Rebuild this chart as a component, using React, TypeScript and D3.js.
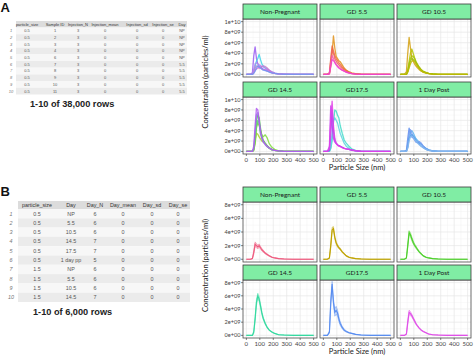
import React from "react";
import * as d3 from "d3";

// ---------- DATA ----------
const FACETS = ["Non-Pregnant", "GD 5.5", "GD 10.5", "GD 14.5", "GD17.5", "1 Day Post"];
const SIZES = [0, 30, 45, 55, 65, 75, 85, 95, 105, 115, 125, 140, 155, 170, 190, 210, 240, 280, 350, 500];

// Panel A: individual samples (concentration, x1e9 particles/ml)
const A_NON_PREGNANT = [
  [0, 0, 0.3, 3.5, 5.2, 3.0, 2.0, 1.6, 1.4, 1.2, 1.0, 0.8, 0.6, 0.5, 0.3, 0.2, 0.1, 0.05, 0, 0],
  [0, 0, 0, 0.5, 1.5, 2.5, 3.0, 3.8, 2.8, 2.0, 1.6, 1.2, 0.9, 0.6, 0.4, 0.2, 0.1, 0, 0, 0],
  [0, 0, 0.1, 1.0, 2.0, 2.2, 2.0, 1.8, 1.7, 1.5, 1.4, 1.2, 1.0, 0.8, 0.5, 0.3, 0.1, 0.05, 0, 0],
  [0, 0, 0, 0.4, 1.2, 1.6, 1.5, 1.2, 1.3, 1.5, 1.6, 1.5, 1.2, 0.8, 0.4, 0.2, 0.1, 0, 0, 0],
  [0, 0, 0, 0.3, 0.8, 1.0, 1.2, 1.3, 1.2, 1.0, 0.9, 0.9, 0.8, 0.6, 0.3, 0.2, 0.1, 0, 0, 0],
  [0, 0, 0, 0.2, 0.6, 1.2, 1.6, 1.4, 1.2, 1.0, 0.8, 0.7, 0.6, 0.4, 0.3, 0.2, 0.1, 0, 0, 0],
];
const A_GD5 = [
  [0, 0, 0.1, 1.5, 4.0, 7.3, 5.0, 3.4, 3.0, 2.6, 2.4, 1.8, 1.2, 0.8, 0.5, 0.3, 0.15, 0.05, 0, 0],
  [0, 0, 0.3, 3.0, 5.4, 4.5, 3.5, 3.0, 2.6, 2.2, 1.9, 1.4, 1.0, 0.7, 0.4, 0.2, 0.1, 0, 0, 0],
  [0, 0, 0.2, 2.5, 4.6, 4.0, 3.0, 2.5, 2.1, 1.8, 1.5, 1.1, 0.8, 0.5, 0.3, 0.2, 0.1, 0, 0, 0],
  [0, 0, 0.2, 2.0, 3.6, 3.0, 2.4, 1.9, 1.6, 1.3, 1.1, 0.8, 0.6, 0.4, 0.3, 0.15, 0.05, 0, 0, 0],
  [0, 0, 0.1, 1.5, 2.8, 2.6, 2.2, 1.8, 1.5, 1.2, 1.0, 0.8, 0.6, 0.4, 0.3, 0.15, 0.05, 0, 0, 0],
];
const A_GD10 = [
  [0, 0, 0.5, 4.0, 7.0, 5.0, 3.2, 2.5, 2.0, 1.6, 1.3, 0.9, 0.6, 0.4, 0.3, 0.15, 0.05, 0, 0, 0],
  [0, 0, 0, 0.8, 2.5, 4.0, 4.8, 4.0, 3.2, 2.5, 2.0, 1.4, 0.9, 0.6, 0.4, 0.2, 0.1, 0, 0, 0],
  [0, 0, 0, 0.6, 2.0, 3.0, 3.5, 3.4, 3.0, 2.4, 1.9, 1.3, 0.8, 0.5, 0.3, 0.2, 0.1, 0, 0, 0],
  [0, 0, 0, 0.5, 1.5, 2.5, 3.0, 2.8, 2.6, 2.3, 1.8, 1.2, 0.8, 0.5, 0.3, 0.2, 0.1, 0, 0, 0],
  [0, 0, 0, 0.4, 1.2, 2.0, 2.5, 2.6, 2.4, 2.0, 1.6, 1.1, 0.7, 0.4, 0.3, 0.15, 0.05, 0, 0, 0],
];
const A_GD14 = [
  [0, 0, 0, 0.5, 3.0, 6.0, 7.0, 6.5, 4.5, 3.0, 2.2, 1.6, 1.1, 0.7, 0.4, 0.2, 0.1, 0, 0, 0],
  [0, 0, 0, 0.3, 2.0, 4.5, 5.5, 5.0, 4.0, 3.2, 2.8, 3.2, 2.6, 1.5, 0.8, 0.4, 0.1, 0, 0, 0],
  [0, 0, 0, 0.2, 1.5, 3.5, 3.3, 2.8, 2.4, 2.0, 1.8, 1.5, 1.0, 0.6, 0.3, 0.2, 0.1, 0, 0, 0],
  [0, 0, 0, 0.3, 2.0, 5.0, 6.0, 5.5, 3.5, 2.6, 2.0, 1.5, 1.0, 0.6, 0.3, 0.2, 0.1, 0, 0, 0],
  [0, 0, 0, 0.5, 3.5, 7.0, 7.5, 5.5, 3.5, 2.5, 1.8, 1.3, 0.9, 0.6, 0.3, 0.2, 0.1, 0, 0, 0],
  [0, 0, 0, 1.0, 5.0, 8.3, 8.0, 6.0, 4.0, 2.8, 2.0, 1.4, 1.0, 0.7, 0.4, 0.2, 0.1, 0, 0, 0],
];
const A_GD17 = [
  [0, 0, 0, 0.5, 2.0, 5.5, 8.0, 7.8, 7.0, 6.5, 5.0, 3.5, 2.2, 1.6, 1.0, 0.5, 0.2, 0.05, 0, 0],
  [0, 0, 0, 0.8, 3.0, 6.0, 6.5, 6.0, 5.5, 4.5, 3.5, 2.5, 1.6, 1.0, 0.6, 0.3, 0.1, 0, 0, 0],
  [0, 0, 0.2, 3.0, 8.0, 4.0, 2.2, 1.6, 1.3, 1.1, 1.0, 0.8, 0.6, 0.5, 0.4, 0.2, 0.1, 0, 0, 0],
  [0, 0, 1.0, 8.8, 5.0, 2.5, 1.8, 1.5, 1.3, 1.1, 1.0, 0.8, 0.6, 0.5, 0.4, 0.3, 0.1, 0, 0, 0],
  [0, 0, 0.5, 6.0, 9.7, 5.0, 2.5, 1.6, 1.2, 1.0, 0.9, 0.7, 0.6, 0.5, 0.4, 0.3, 0.15, 0.05, 0, 0],
];
const A_DAY_POST = [
  [0, 0, 0.2, 2.5, 4.5, 3.5, 2.8, 2.6, 2.4, 2.0, 1.8, 1.6, 1.4, 1.0, 0.6, 0.3, 0.1, 0, 0, 0],
  [0, 0, 0, 1.0, 3.0, 3.8, 4.0, 3.6, 3.0, 2.5, 2.2, 1.8, 1.4, 1.0, 0.6, 0.3, 0.1, 0, 0, 0],
  [0, 0, 0.1, 1.5, 3.5, 4.2, 3.5, 2.8, 2.2, 1.8, 1.7, 1.9, 1.6, 1.0, 0.5, 0.2, 0.1, 0, 0, 0],
  [0, 0, 0, 0.8, 2.5, 3.0, 3.2, 3.0, 2.6, 2.2, 1.8, 1.4, 1.0, 0.7, 0.4, 0.2, 0.1, 0, 0, 0],
  [0, 0, 0, 0.6, 2.0, 2.8, 3.0, 2.7, 2.3, 2.0, 1.7, 1.3, 1.0, 0.7, 0.4, 0.2, 0.1, 0, 0, 0],
];
const A_SERIES = [A_NON_PREGNANT, A_GD5, A_GD10, A_GD14, A_GD17, A_DAY_POST];

// Panel B: mean and sd per day
const B_MEAN_NP = [0, 0, 0.1, 1.0, 2.2, 2.0, 1.8, 2.0, 1.7, 1.4, 1.2, 0.9, 0.7, 0.5, 0.3, 0.2, 0.1, 0.05, 0, 0];
const B_MEAN_GD5 = [0, 0, 0.2, 2.0, 4.3, 4.5, 3.2, 2.4, 2.0, 1.7, 1.5, 1.1, 0.8, 0.5, 0.3, 0.2, 0.1, 0.05, 0, 0];
const B_MEAN_GD10 = [0, 0, 0.2, 2.0, 3.9, 3.6, 3.0, 2.5, 2.1, 1.8, 1.5, 1.1, 0.8, 0.5, 0.3, 0.2, 0.1, 0.05, 0, 0];
const B_MEAN_GD14 = [0, 0, 0, 0.5, 2.5, 5.0, 6.0, 5.5, 4.5, 3.4, 2.6, 1.8, 1.2, 0.8, 0.5, 0.3, 0.1, 0.05, 0, 0];
const B_MEAN_GD17 = [0, 0, 0.5, 5.0, 7.8, 5.0, 3.5, 3.8, 3.4, 2.5, 1.8, 1.2, 0.8, 0.6, 0.4, 0.3, 0.15, 0.05, 0, 0];
const B_MEAN_DP = [0, 0, 0.2, 2.0, 3.5, 3.3, 3.0, 2.6, 2.2, 1.8, 1.5, 1.1, 0.8, 0.6, 0.4, 0.2, 0.1, 0.05, 0, 0];
const B_SD_NP = [0, 0, 0.05, 0.3, 0.35, 0.3, 0.3, 0.25, 0.2, 0.2, 0.15, 0.12, 0.1, 0.08, 0.05, 0.03, 0.02, 0, 0, 0];
const B_SD_GD5 = [0, 0, 0.1, 0.4, 0.4, 0.3, 0.25, 0.2, 0.2, 0.15, 0.15, 0.1, 0.1, 0.08, 0.05, 0.03, 0.02, 0, 0, 0];
const B_SD_GD10 = [0, 0, 0.1, 0.4, 0.3, 0.3, 0.3, 0.25, 0.2, 0.2, 0.15, 0.12, 0.1, 0.08, 0.05, 0.03, 0.02, 0, 0, 0];
const B_SD_GD14 = [0, 0, 0, 0.2, 0.4, 0.5, 0.4, 0.4, 0.3, 0.25, 0.2, 0.15, 0.1, 0.08, 0.05, 0.03, 0.02, 0, 0, 0];
const B_SD_GD17 = [0, 0, 0.2, 0.6, 0.4, 0.5, 0.6, 0.6, 0.5, 0.4, 0.3, 0.2, 0.15, 0.1, 0.06, 0.04, 0.02, 0, 0, 0];
const B_SD_DP = [0, 0, 0.1, 0.4, 0.35, 0.3, 0.25, 0.2, 0.2, 0.15, 0.12, 0.1, 0.08, 0.06, 0.04, 0.03, 0.02, 0, 0, 0];
const B_MEANS = [B_MEAN_NP, B_MEAN_GD5, B_MEAN_GD10, B_MEAN_GD14, B_MEAN_GD17, B_MEAN_DP];
const B_SDS = [B_SD_NP, B_SD_GD5, B_SD_GD10, B_SD_GD14, B_SD_GD17, B_SD_DP];

const X_TICKS = [0, 100, 200, 300, 400, 500];
const A_Y_TICKS = [0, 2, 4, 6, 8, 10];
const A_Y_LABELS = ["0e+00", "2e+09", "4e+09", "6e+09", "8e+09", "1e+10"];
const B_Y_TICKS = [0, 2, 4, 6, 8];
const B_Y_LABELS = ["0e+00", "2e+09", "4e+09", "6e+09", "8e+09"];

// Tables
const TA_HEAD = ["particle_size", "Sample ID", "Injection_N", "Injection_mean", "Injection_sd", "Injection_se", "Day"];
const TA_PARTICLE = ["0.5", "0.5", "0.5", "0.5", "0.5", "0.5", "0.5", "0.5", "0.5", "0.5"];
const TA_SAMPLE = ["1", "2", "3", "4", "6", "7", "8", "9", "10", "11"];
const TA_INJ_N = ["3", "3", "3", "3", "3", "3", "3", "3", "3", "3"];
const TA_INJ_MEAN = ["0", "0", "0", "0", "0", "0", "0", "0", "0", "0"];
const TA_INJ_SD = ["0", "0", "0", "0", "0", "0", "0", "0", "0", "0"];
const TA_INJ_SE = ["0", "0", "0", "0", "0", "0", "0", "0", "0", "0"];
const TA_DAY = ["NP", "NP", "NP", "NP", "NP", "5.5", "5.5", "5.5", "5.5", "5.5"];

const TB_HEAD = ["particle_size", "Day", "Day_N", "Day_mean", "Day_sd", "Day_se"];
const TB_PARTICLE = ["0.5", "0.5", "0.5", "0.5", "0.5", "0.5", "1.5", "1.5", "1.5", "1.5"];
const TB_DAY = ["NP", "5.5", "10.5", "14.5", "17.5", "1 day pp", "NP", "5.5", "10.5", "14.5"];
const TB_N = ["6", "6", "6", "7", "7", "5", "6", "6", "6", "7"];
const TB_MEAN = ["0", "0", "0", "0", "0", "0", "0", "0", "0", "0"];
const TB_SD = ["0", "0", "0", "0", "0", "0", "0", "0", "0", "0"];
const TB_SE = ["0", "0", "0", "0", "0", "0", "0", "0", "0", "0"];

// ---------- STYLE ----------
const A_COLORS = [
  ["#9A5CF2", "#3FD3E8", "#A98BF0", "#C77ACB", "#D96CE0", "#6F9AF0"],
  ["#E0901A", "#EE6A3C", "#F0605F", "#F25CB0", "#F040D0"],
  ["#D4A010", "#B5C200", "#A6C400", "#98BE10", "#C0B800"],
  ["#3ECF3E", "#7EDC3A", "#A8D420", "#52D860", "#9A7CE8", "#B05AF0"],
  ["#44DCC8", "#5AD4E0", "#A050F0", "#C838F0", "#E040E8"],
  ["#5A8CF0", "#5AB0F0", "#7A9CF0", "#4FA0E8", "#8AB8F0"],
];
const B_COLORS = ["#EE5A7E", "#BFA200", "#4CD02A", "#35D9A0", "#5A8EF0", "#E050E8"];

const FONT = "Lato, 'Open Sans', sans-serif";
const COLS: [number, number][] = [[243, 317], [320, 394], [397, 471]];

type Row = { stripTop: number; panelTop: number; panelBottom: number };

function FacetGrid(props: {
  id: string;
  rows: Row[];
  yDomain: [number, number];
  yTicks: number[];
  yLabels: string[];
  render: (i: number, x: d3.ScaleLinear<number, number>, y: d3.ScaleLinear<number, number>) => React.ReactNode;
}) {
  const { id, rows, yDomain, yTicks, yLabels, render } = props;
  const yMinor = yTicks.slice(0, -1).map((t, i) => (t + yTicks[i + 1]) / 2);
  const xMinor = X_TICKS.slice(0, -1).map((t, i) => (t + X_TICKS[i + 1]) / 2);
  const items: React.ReactNode[] = [];
  rows.forEach((row, r) => {
    COLS.forEach((col, c) => {
      const i = r * 3 + c;
      const x = d3.scaleLinear().domain([-25, 525]).range(col);
      const y = d3.scaleLinear().domain(yDomain).range([row.panelBottom, row.panelTop]);
      const clip = `${id}-clip-${i}`;
      items.push(
        <g key={`${id}-${i}`}>
          <defs>
            <clipPath id={clip}>
              <rect x={col[0]} y={row.panelTop} width={col[1] - col[0]} height={row.panelBottom - row.panelTop} />
            </clipPath>
          </defs>
          <rect x={col[0]} y={row.panelTop} width={col[1] - col[0]} height={row.panelBottom - row.panelTop} fill="#fff" />
          {yMinor.map((t) => (
            <line key={`ym${t}`} x1={col[0]} x2={col[1]} y1={y(t)} y2={y(t)} stroke="#f3f3f3" strokeWidth={0.5} />
          ))}
          {xMinor.map((t) => (
            <line key={`xm${t}`} x1={x(t)} x2={x(t)} y1={row.panelTop} y2={row.panelBottom} stroke="#f3f3f3" strokeWidth={0.5} />
          ))}
          {yTicks.map((t) => (
            <line key={`y${t}`} x1={col[0]} x2={col[1]} y1={y(t)} y2={y(t)} stroke="#e6e6e6" strokeWidth={0.7} />
          ))}
          {X_TICKS.map((t) => (
            <line key={`x${t}`} x1={x(t)} x2={x(t)} y1={row.panelTop} y2={row.panelBottom} stroke="#e6e6e6" strokeWidth={0.7} />
          ))}
          <g clipPath={`url(#${clip})`}>{render(i, x, y)}</g>
          <rect x={col[0]} y={row.panelTop} width={col[1] - col[0]} height={row.panelBottom - row.panelTop} fill="none" stroke="#4a4a4a" strokeWidth={0.8} />
          <rect x={col[0]} y={row.stripTop} width={col[1] - col[0]} height={row.panelTop - row.stripTop} fill="#80EDA4" stroke="#3a3a3a" strokeWidth={0.8} />
          <text x={(col[0] + col[1]) / 2} y={(row.stripTop + row.panelTop) / 2 + 2.3} textAnchor="middle" fontSize={6.5} fill="#1a1a1a" fontFamily={FONT}>
            {FACETS[i]}
          </text>
          {c === 0 &&
            yTicks.map((t, k) => (
              <g key={`yl${t}`}>
                <line x1={col[0] - 2} x2={col[0]} y1={y(t)} y2={y(t)} stroke="#333" strokeWidth={0.6} />
                <text x={col[0] - 2.5} y={y(t) + 2} textAnchor="end" fontSize={5.6} fill="#444" fontFamily={FONT}>
                  {yLabels[k]}
                </text>
              </g>
            ))}
          {r === rows.length - 1 &&
            X_TICKS.map((t) => (
              <g key={`xl${t}`}>
                <line x1={x(t)} x2={x(t)} y1={row.panelBottom} y2={row.panelBottom + 2} stroke="#333" strokeWidth={0.6} />
                <text x={x(t)} y={row.panelBottom + 8} textAnchor="middle" fontSize={6} fill="#444" fontFamily={FONT}>
                  {t}
                </text>
              </g>
            ))}
        </g>
      );
    });
  });
  const top = rows[0].stripTop;
  const bottom = rows[rows.length - 1].panelBottom;
  items.push(
    <text key={`${id}-ytitle`} transform={`translate(207.5, ${(top + bottom) / 2 + 3}) rotate(-90)`} textAnchor="middle" fontSize={7.6} fill="#222" fontFamily={FONT}>
      Concentration (particles/ml)
    </text>
  );
  items.push(
    <text key={`${id}-xtitle`} x={(COLS[0][0] + COLS[2][1]) / 2} y={bottom + 16} textAnchor="middle" fontSize={7.6} fill="#222" fontFamily={FONT}>
      Particle Size (nm)
    </text>
  );
  return <g>{items}</g>;
}

function Table(props: {
  x0: number; x1: number; top: number; headH: number; rowH: number;
  numX: number; centers: number[]; head: string[]; cols: string[][]; fontSize: number;
}) {
  const { x0, x1, top, headH, rowH, numX, centers, head, cols, fontSize } = props;
  const n = cols[0].length;
  return (
    <g fontFamily="'Liberation Sans', Arial, sans-serif">
      <rect x={x0} y={top} width={x1 - x0} height={headH} fill="#dcdcdc" />
      {head.map((h, j) => (
        <text key={h} x={centers[j]} y={top + headH / 2 + fontSize * 0.36} textAnchor="middle" fontSize={fontSize} fill="#333">
          {h}
        </text>
      ))}
      {d3.range(n).map((r) => {
        const ry = top + headH + r * rowH;
        return (
          <g key={r}>
            <rect x={x0} y={ry} width={x1 - x0} height={rowH} fill={r % 2 === 0 ? "#f7f7f7" : "#ebebeb"} />
            <text x={numX} y={ry + rowH / 2 + fontSize * 0.36} textAnchor="middle" fontSize={fontSize} fill="#777" fontStyle="italic">
              {r + 1}
            </text>
            {cols.map((col, j) => (
              <text key={j} x={centers[j]} y={ry + rowH / 2 + fontSize * 0.36} textAnchor="middle" fontSize={fontSize} fill="#555">
                {col[r]}
              </text>
            ))}
          </g>
        );
      })}
    </g>
  );
}

export default function App() {
  const rowsA: Row[] = [
    { stripTop: 4, panelTop: 19, panelBottom: 77 },
    { stripTop: 82, panelTop: 97, panelBottom: 154 },
  ];
  const rowsB: Row[] = [
    { stripTop: 187, panelTop: 202, panelBottom: 262 },
    { stripTop: 265, panelTop: 280, panelBottom: 338 },
  ];
  return (
    <svg width={474} height={356} style={{ position: "absolute", left: 0, top: 0, background: "#fff" }}>
      <rect width={474} height={356} fill="#fff" />
      <text x={0.5} y={12} fontSize={13} fontWeight="bold" fontFamily="'Liberation Sans', Arial, sans-serif" fill="#111">A</text>
      <text x={0.5} y={196} fontSize={13} fontWeight="bold" fontFamily="'Liberation Sans', Arial, sans-serif" fill="#111">B</text>

      <Table x0={16} x1={187} top={21} headH={6.5} rowH={6.7} numX={11} fontSize={4}
        centers={[27, 55, 78, 105, 137, 163, 182]} head={TA_HEAD}
        cols={[TA_PARTICLE, TA_SAMPLE, TA_INJ_N, TA_INJ_MEAN, TA_INJ_SD, TA_INJ_SE, TA_DAY]} />
      <text x={30} y={106.5} fontSize={9.2} fontWeight={600} fontFamily="'Liberation Sans', Arial, sans-serif" fill="#222">1-10 of 38,000 rows</text>

      <Table x0={18} x1={190} top={201} headH={8} rowH={9.3} numX={11} fontSize={5.4}
        centers={[37, 71, 95, 123, 152, 178]} head={TB_HEAD}
        cols={[TB_PARTICLE, TB_DAY, TB_N, TB_MEAN, TB_SD, TB_SE]} />
      <text x={33} y={314.5} fontSize={9.2} fontWeight={600} fontFamily="'Liberation Sans', Arial, sans-serif" fill="#222">1-10 of 6,000 rows</text>

      <FacetGrid id="a" rows={rowsA} yDomain={[-0.5, 10.5]} yTicks={A_Y_TICKS} yLabels={A_Y_LABELS}
        render={(i, x, y) => {
          const line = d3.line<number>().x((_, k) => x(SIZES[k])).y((v) => y(v));
          return A_SERIES[i].map((s, k) => (
            <path key={k} d={line(s) || ""} fill="none" stroke={A_COLORS[i][k]} strokeWidth={1.3} strokeOpacity={0.85} strokeLinejoin="round" />
          ));
        }} />

      <FacetGrid id="b" rows={rowsB} yDomain={[-0.4, 8.4]} yTicks={B_Y_TICKS} yLabels={B_Y_LABELS}
        render={(i, x, y) => {
          const m = B_MEANS[i];
          const sd = B_SDS[i];
          const area = d3.area<number>().x((_, k) => x(SIZES[k])).y0((v, k) => y(v - sd[k])).y1((v, k) => y(v + sd[k]));
          const line = d3.line<number>().x((_, k) => x(SIZES[k])).y((v) => y(v));
          const upper = d3.line<number>().x((_, k) => x(SIZES[k])).y((v, k) => y(v + sd[k]));
          const lower = d3.line<number>().x((_, k) => x(SIZES[k])).y((v, k) => y(v - sd[k]));
          return (
            <g>
              <path d={area(m) || ""} fill={B_COLORS[i]} fillOpacity={0.35} />
              <path d={upper(m) || ""} fill="none" stroke={B_COLORS[i]} strokeWidth={0.5} strokeOpacity={0.8} />
              <path d={lower(m) || ""} fill="none" stroke={B_COLORS[i]} strokeWidth={0.5} strokeOpacity={0.8} />
              <path d={line(m) || ""} fill="none" stroke={B_COLORS[i]} strokeWidth={1.1} />
            </g>
          );
        }} />
    </svg>
  );
}
